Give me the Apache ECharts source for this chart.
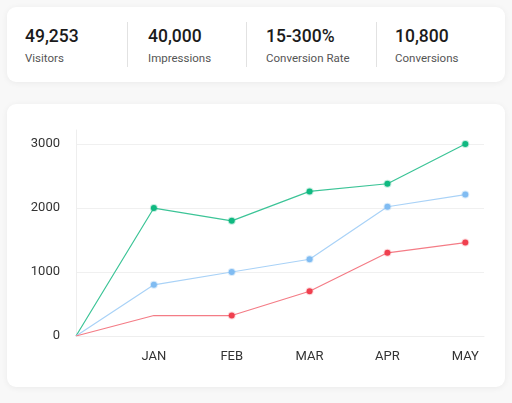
<!DOCTYPE html>
<html>
<head>
<meta charset="utf-8">
<script src="https://cdn.jsdelivr.net/npm/echarts@6/dist/echarts.min.js"></script>
<style>
  html, body { margin: 0; padding: 0; background: #f8f8f8; font-family: Roboto, sans-serif; }
  .card {
    position: absolute; left: 7px; width: 498px; background: #fff;
    border-radius: 9px; box-shadow: 0 1px 6px rgba(0,0,0,0.06);
  }
  #stats { top: 7px; height: 75px; }
  #chartCard { top: 104px; height: 283px; }
  .stat { position: absolute; top: 18px; }
  .stat .num { font-size: 17.5px; font-weight: 500; color: #1b1b1b; line-height: 23px; }
  .stat .lbl { font-size: 11.5px; color: #555; margin-top: 3px; }
  .divider { position: absolute; top: 15px; height: 45px; width: 1px; background: #e2e2e2; }
  #chart { position: absolute; left: 0; top: 0; width: 498px; height: 283px; }
</style>
</head>
<body>
<div class="card" id="stats"></div>
<div class="card" id="chartCard"><div id="chart"></div></div>
<script>
// summary cards
const statValues = ['49,253', '40,000', '15-300%', '10,800'];
const statLabels = ['Visitors', 'Impressions', 'Conversion Rate', 'Conversions'];

// chart data
const months = ['', 'JAN', 'FEB', 'MAR', 'APR', 'MAY'];
const greenSeries = [0, 2000, 1800, 2260, 2380, 3000];
const blueSeries = [0, 800, 1000, 1200, 2020, 2210];
const redSeries = [0, 320, 320, 700, 1300, 1460];

const statLeft = [18, 141, 259, 388];
const dividerLeft = [120, 239, 369];
const statsEl = document.getElementById('stats');
statValues.forEach((v, i) => {
  const d = document.createElement('div');
  d.className = 'stat';
  d.style.left = statLeft[i] + 'px';
  d.innerHTML = '<div class="num">' + v + '</div><div class="lbl">' + statLabels[i] + '</div>';
  statsEl.appendChild(d);
});
dividerLeft.forEach(x => {
  const d = document.createElement('div');
  d.className = 'divider';
  d.style.left = x + 'px';
  statsEl.appendChild(d);
});

// x is the month index so the grid can run a little past MAY
const withMarkers = (arr, hidden) => arr.map((v, i) =>
  hidden.includes(i) ? { value: [i, v], symbolSize: 0 } : [i, v]);

const makeSeries = (name, data, dot, line, halo, hidden) => ({
  name,
  type: 'line',
  data: withMarkers(data, hidden),
  symbol: 'circle',
  symbolSize: 6,
  showSymbol: true,
  itemStyle: { color: dot, borderColor: halo, borderWidth: 2 },
  lineStyle: { color: line, width: 1.2 },
  emphasis: { disabled: true }
});

const chart = echarts.init(document.getElementById('chart'));
chart.setOption({
  animation: false,
  grid: { left: 69, right: 21, top: 26, bottom: 51 },
  xAxis: {
    type: 'value',
    min: 0,
    max: 5.24,
    interval: 1,
    axisLine: { show: true, lineStyle: { color: '#eeeeee' } },
    axisTick: { show: false },
    splitLine: { show: false },
    axisLabel: {
      color: '#333', fontSize: 13, fontFamily: 'Roboto', margin: 14,
      showMaxLabel: false,
      formatter: v => months[v] || ''
    }
  },
  yAxis: {
    type: 'value',
    min: 0,
    max: 3220,
    interval: 1000,
    axisLine: { show: true, lineStyle: { color: '#eeeeee' } },
    axisTick: { show: false },
    axisLabel: {
      color: '#333', fontSize: 13, fontFamily: 'Roboto', margin: 16,
      showMaxLabel: false,
      formatter: v => String(v)
    },
    splitLine: {
      showMaxLine: false,
      lineStyle: { color: ['#f0f0f0', '#f0f0f0', '#f0f0f0', '#f0f0f0', 'transparent'] }
    }
  },
  series: [
    makeSeries('green', greenSeries, '#10b981', '#3cc497', 'rgba(16,185,129,0.25)', [0]),
    makeSeries('blue', blueSeries, '#80bcf2', '#a9d2f7', 'rgba(128,188,242,0.3)', [0]),
    makeSeries('red', redSeries, '#f0404f', '#f47c86', 'rgba(240,64,79,0.2)', [0, 1])
  ]
});
</script>
</body>
</html>
